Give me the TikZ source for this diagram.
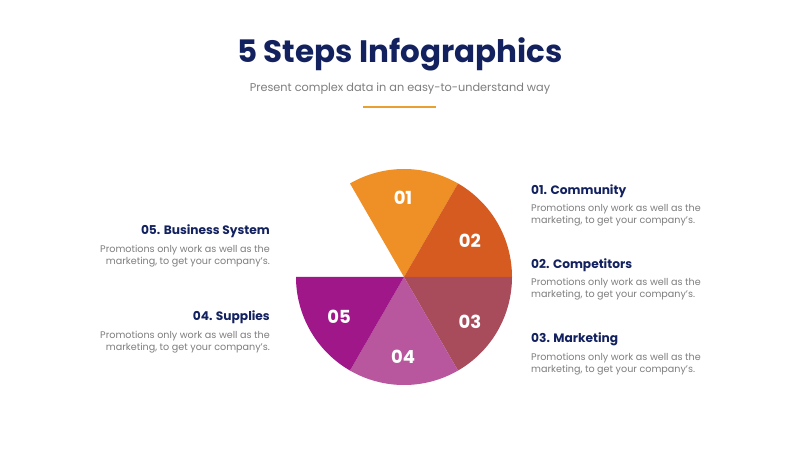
\documentclass[tikz,border=0pt]{standalone}
\usepackage{fontspec}
\setmainfont{Poppins}
\definecolor{navy}{HTML}{13225F}
\definecolor{graytxt}{HTML}{7E7E7E}
\definecolor{lineor}{HTML}{E8A030}
\definecolor{cA}{HTML}{EF9026}
\definecolor{cB}{HTML}{D65B20}
\definecolor{cC}{HTML}{A84C5B}
\definecolor{cD}{HTML}{B8569E}
\definecolor{cE}{HTML}{A0178A}
\tikzset{
  title/.style={font=\fontsize{31}{34}\selectfont\bfseries, text=navy, inner sep=0pt, anchor=base},
  subtitle/.style={font=\fontsize{11.3}{14}\selectfont, text=graytxt, inner sep=0pt, anchor=base},
  headR/.style={font=\fontsize{12.2}{15}\selectfont\bfseries, text=navy, inner sep=0pt, anchor=base west},
  headL/.style={font=\fontsize{12.2}{15}\selectfont\bfseries, text=navy, inner sep=0pt, anchor=base east},
  bodyR/.style={font=\fontsize{9.6}{12}\selectfont, text=graytxt, inner sep=0pt, anchor=base west},
  bodyL/.style={font=\fontsize{9.6}{12}\selectfont, text=graytxt, inner sep=0pt, anchor=base east},
  num/.style={font=\fontsize{18}{20}\selectfont\bfseries, text=white, inner sep=0pt},
}
\begin{document}
\begin{tikzpicture}[x=1pt,y=1pt]
\useasboundingbox (0,0) rectangle (800,450);
\fill[white] (0,0) rectangle (800,450);
% title
\node[title] (t) at (400,450-63) {5 Steps Infographics};
\node[subtitle] (st) at (400,450-92) {Present complex data in an easy-to-understand way};
\draw[lineor, line width=2.5pt] (363,450-107) coordinate (u1) -- (436,450-107) coordinate (u2);
% pie
\coordinate (C) at (404,173);
\def\R{108pt}
\fill[cA] (C) -- ++(60:\R) arc[start angle=60,end angle=120,radius=\R] -- cycle;
\fill[cB] (C) -- ++(0:\R) arc[start angle=0,end angle=60,radius=\R] -- cycle;
\fill[cC] (C) -- ++(-60:\R) arc[start angle=-60,end angle=0,radius=\R] -- cycle;
\fill[cD] (C) -- ++(-120:\R) arc[start angle=-120,end angle=-60,radius=\R] -- cycle;
\fill[cE] (C) -- ++(180:\R) arc[start angle=180,end angle=240,radius=\R] -- cycle;
\node[num] (n1) at (403,450-198) {01};
\node[num] (n2) at (470,450-241) {02};
\node[num] (n3) at (470,450-322) {03};
\node[num] (n4) at (403,450-357) {04};
\node[num] (n5) at (339,450-317) {05};
% right texts
\node[headR] (h1) at (531,450-195) {01. Community};
\node[bodyR] (b1a) at (531,450-212) {Promotions only work as well as the};
\node[bodyR] (b1b) at (531,450-224) {marketing, to get your company’s.};
\node[headR] (h2) at (531,450-269) {02. Competitors};
\node[bodyR] (b2a) at (531,450-286) {Promotions only work as well as the};
\node[bodyR] (b2b) at (531,450-298) {marketing, to get your company’s.};
\node[headR] (h3) at (531,450-343) {03. Marketing};
\node[bodyR] (b3a) at (531,450-360) {Promotions only work as well as the};
\node[bodyR] (b3b) at (531,450-372) {marketing, to get your company’s.};
% left texts
\node[headL] (h5) at (270,450-235) {05. Business System};
\node[bodyL] (b5a) at (270,450-253) {Promotions only work as well as the};
\node[bodyL] (b5b) at (270,450-265) {marketing, to get your company’s.};
\node[headL] (h4) at (270,450-321) {04. Supplies};
\node[bodyL] (b4a) at (270,450-338) {Promotions only work as well as the};
\node[bodyL] (b4b) at (270,450-350) {marketing, to get your company’s.};
\end{tikzpicture}
\end{document}
